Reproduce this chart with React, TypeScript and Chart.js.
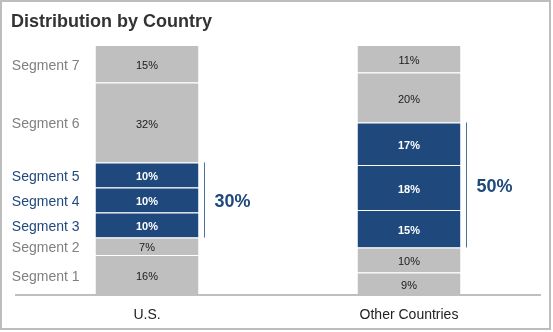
import React, { useEffect, useRef } from "react";
import { Chart, registerables } from "chart.js";

Chart.register(...registerables);

const categories = ["U.S.", "Other Countries"];
const segmentNames = ["Segment 1", "Segment 2", "Segment 3", "Segment 4", "Segment 5", "Segment 6", "Segment 7"];
const usValues = [16, 7, 10, 10, 10, 32, 15];
const otherValues = [9, 10, 15, 18, 17, 20, 11];
const highlighted = [false, false, true, true, true, false, false];
const title = "Distribution by Country";

const BLUE = "#1f497d";
const GRAY = "#bfbfbf";
const FONT = "'Liberation Sans', Arial, sans-serif";

const overlay = {
  id: "overlay",
  afterDatasetsDraw(chart: any) {
    const ctx = chart.ctx;
    const n = segmentNames.length;
    ctx.save();
    // data labels
    for (let d = 0; d < n; d++) {
      const meta = chart.getDatasetMeta(d);
      meta.data.forEach((bar: any, i: number) => {
        const v = chart.data.datasets[d].data[i];
        const y = (bar.y + bar.base) / 2;
        ctx.textAlign = "center";
        ctx.textBaseline = "middle";
        if (highlighted[d]) {
          ctx.fillStyle = "#ffffff";
          ctx.font = `bold 11px ${FONT}`;
        } else {
          ctx.fillStyle = "#1a1a1a";
          ctx.font = `11px ${FONT}`;
        }
        ctx.fillText(v + "%", bar.x, y + 2);
      });
    }
    // segment names next to first bar
    for (let d = 0; d < n; d++) {
      const bar: any = chart.getDatasetMeta(d).data[0];
      const y = (bar.y + bar.base) / 2;
      ctx.textAlign = "right";
      ctx.textBaseline = "middle";
      ctx.font = `14px ${FONT}`;
      ctx.fillStyle = highlighted[d] ? BLUE : "#808080";
      ctx.fillText(segmentNames[d], bar.x - bar.width / 2 - 16, y + 2);
    }
    // brackets
    const first = highlighted.indexOf(true);
    const last = highlighted.lastIndexOf(true);
    categories.forEach((_, i) => {
      const bottomBar: any = chart.getDatasetMeta(first).data[i];
      const topBar: any = chart.getDatasetMeta(last).data[i];
      let sum = 0;
      for (let d = first; d <= last; d++) sum += chart.data.datasets[d].data[i];
      const x = Math.round(bottomBar.x + bottomBar.width / 2 + 6) + 0.5;
      ctx.strokeStyle = "#4f6f9c";
      ctx.lineWidth = 1;
      ctx.beginPath();
      ctx.moveTo(x, topBar.y);
      ctx.lineTo(x, bottomBar.base);
      ctx.stroke();
      ctx.fillStyle = BLUE;
      ctx.font = `bold 18px ${FONT}`;
      ctx.textAlign = "left";
      ctx.textBaseline = "middle";
      ctx.fillText(sum + "%", x + 10, (topBar.y + bottomBar.base) / 2 + 2);
    });
    // title
    ctx.fillStyle = "#333333";
    ctx.font = `bold 18px ${FONT}`;
    ctx.textAlign = "left";
    ctx.textBaseline = "middle";
    ctx.fillText(title, 11, 22);
    // frame
    ctx.strokeStyle = "#bdbdbd";
    ctx.lineWidth = 2;
    ctx.strokeRect(1, 1, 549, 328);
    ctx.restore();
  },
};

export default function App() {
  const ref = useRef<HTMLCanvasElement>(null);
  useEffect(() => {
    if (!ref.current) return;
    const all = [usValues, otherValues];
    const datasets = segmentNames.map((name, d) => ({
      label: name,
      data: all.map((arr) => arr[d]),
      backgroundColor: highlighted[d] ? BLUE : GRAY,
      borderColor: "#ffffff",
      borderWidth: { top: 1, bottom: 0, left: 0, right: 0 },
      borderSkipped: false,
      barPercentage: 0.393,
      categoryPercentage: 1,
    }));
    const chart = new Chart(ref.current, {
      type: "bar",
      data: { labels: categories, datasets },
      options: {
        animation: false,
        responsive: false,
        maintainAspectRatio: false,
        layout: { padding: { top: 45, left: 16, right: 13, bottom: -3 } },
        plugins: { legend: { display: false }, tooltip: { enabled: false }, title: { display: false } },
        scales: {
          x: {
            stacked: true,
            grid: { display: false, drawTicks: false },
            border: { color: GRAY, width: 2 },
            ticks: { color: "#222222", font: { size: 14, family: FONT, lineHeight: 1 }, padding: 13 },
          },
          y: { stacked: true, display: false, min: 0, max: 100 },
        },
      },
      plugins: [overlay],
    });
    return () => chart.destroy();
  }, []);
  return (
    <div style={{ position: "fixed", left: 0, top: 0, width: 553, height: 332, background: "#fff" }}>
      <canvas ref={ref} width={553} height={332} style={{ display: "block" }} />
    </div>
  );
}
